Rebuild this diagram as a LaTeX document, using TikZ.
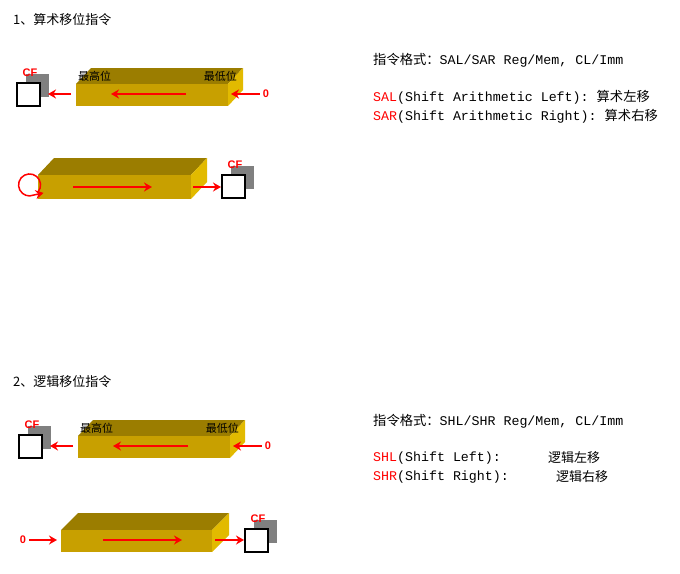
\documentclass[tikz,border=0pt]{standalone}
\usepackage{fontspec}
\setmonofont{Liberation Mono}
\newfontfamily\cjk{Noto Sans CJK SC}
\newfontfamily\hv{Liberation Sans}
\usetikzlibrary{arrows.meta}
\definecolor{gfront}{HTML}{C8A000}
\definecolor{gtop}{HTML}{9B7D00}
\definecolor{gside}{HTML}{E2BA00}
\definecolor{cfgray}{HTML}{808080}
\definecolor{myred}{HTML}{FF0000}
\tikzset{
  redarrow/.style={draw=myred,line width=2pt,-{Stealth[length=8pt,width=9pt]}},
  cftext/.style={text=myred,font=\hv\bfseries\fontsize{11}{11}\selectfont,inner sep=0pt},
  txt/.style={anchor=west,inner sep=0pt,font=\fontsize{13.3}{14}\selectfont\ttfamily},
  ctxt/.style={anchor=west,inner sep=0pt,font=\fontsize{13}{14}\selectfont\cjk},
  lbl/.style={inner sep=0pt,font=\fontsize{11}{12}\selectfont\cjk},
}
\newcommand\gbar[6]{%
  \fill[gtop] (#1,#2) -- ++(#5,#6) -- (#3+#5,#2+#6) -- (#3,#2) -- cycle;
  \fill[gside] (#3,#2) -- ++(#5,#6) -- (#3+#5,#4+#6) -- (#3,#4) -- cycle;
  \fill[gfront] (#1,#2) rectangle (#3,#4);}
\newcommand\cfbox[3]{% x y name
  \fill[cfgray] (#1+9,#2-9) rectangle ++(23,23);
  \draw[line width=2pt,fill=white] (#1,#2) rectangle ++(23,23);
  \node[cftext] (#3) at (#1+13,#2-10) {CF};}
\begin{document}
\begin{tikzpicture}[x=1pt,y=-1pt]
\useasboundingbox (0,0) rectangle (680,573);
% section 1
\node[ctxt] (t1) at (13,20) {1、算术移位指令};
\gbar{76}{84}{228}{106}{15}{-16}
\cfbox{17}{83}{cf1}
\node[lbl,anchor=west] (h1) at (78,76) {最高位};
\node[lbl,anchor=east] (l1) at (237,76) {最低位};
\coordinate (a1s) at (71,94); \coordinate (a1e) at (48,94);
\draw[redarrow] (a1s) -- (a1e);
\coordinate (i1s) at (186,94); \coordinate (i1e) at (111,94);
\draw[redarrow] (i1s) -- (i1e);
\node[text=myred,font=\hv\bfseries\fontsize{11}{11}\selectfont,inner sep=0pt] (z1) at (266,94) {0};
\coordinate (z1e) at (231,94);
\draw[redarrow] (z1.west) ++(-3,0) -- (z1e);

\gbar{38}{175}{191}{199}{16}{-17}
\cfbox{222}{175}{cf2}
\coordinate (i2s) at (73,187); \coordinate (i2e) at (152,187);
\draw[redarrow] (i2s) -- (i2e);
\coordinate (o2s) at (193,187); \coordinate (o2e) at (221,187);
\draw[redarrow] (o2s) -- (o2e);
\coordinate (c2) at (38,192);
\draw[draw=myred,line width=1.5pt,-{Stealth[length=8pt,width=9pt]}] (c2) arc[start angle=40,end angle=-270,radius=11] -- ++(14,-3);

\node[txt] (f1) at (373,60) {\cjk 指令格式：\ttfamily SAL/SAR Reg/Mem, CL/Imm};
\node[txt] (s1) at (373,97) {\textcolor{myred}{SAL}(Shift Arithmetic Left): \cjk 算术左移};
\node[txt] (s2) at (373,116) {\textcolor{myred}{SAR}(Shift Arithmetic Right): \cjk 算术右移};

% section 2
\node[ctxt] (t2) at (13,382) {2、逻辑移位指令};
\gbar{78}{436}{230}{458}{15}{-16}
\cfbox{19}{435}{cf3}
\node[lbl,anchor=west] (h3) at (80,428) {最高位};
\node[lbl,anchor=east] (l3) at (239,428) {最低位};
\coordinate (a3s) at (73,446); \coordinate (a3e) at (50,446);
\draw[redarrow] (a3s) -- (a3e);
\coordinate (i3s) at (188,446); \coordinate (i3e) at (113,446);
\draw[redarrow] (i3s) -- (i3e);
\node[text=myred,font=\hv\bfseries\fontsize{11}{11}\selectfont,inner sep=0pt] (z3) at (268,446) {0};
\coordinate (z3e) at (233,446);
\draw[redarrow] (z3.west) ++(-3,0) -- (z3e);

\gbar{61}{530}{212}{552}{17}{-17}
\cfbox{245}{529}{cf4}
\node[text=myred,font=\hv\bfseries\fontsize{11}{11}\selectfont,inner sep=0pt] (z4) at (23,540) {0};
\coordinate (z4e) at (57,540);
\draw[redarrow] (z4.east) ++(3,0) -- (z4e);
\coordinate (i4s) at (103,540); \coordinate (i4e) at (182,540);
\draw[redarrow] (i4s) -- (i4e);
\coordinate (o4s) at (215,540); \coordinate (o4e) at (244,540);
\draw[redarrow] (o4s) -- (o4e);

\node[txt] (f2) at (373,421) {\cjk 指令格式：\ttfamily SHL/SHR Reg/Mem, CL/Imm};
\node[txt] (s3) at (373,458) {\textcolor{myred}{SHL}(Shift Left):};
\node[ctxt] (s3c) at (548,458) {逻辑左移};
\node[txt] (s4) at (373,477) {\textcolor{myred}{SHR}(Shift Right):};
\node[ctxt] (s4c) at (556,477) {逻辑右移};
\end{tikzpicture}
\end{document}
